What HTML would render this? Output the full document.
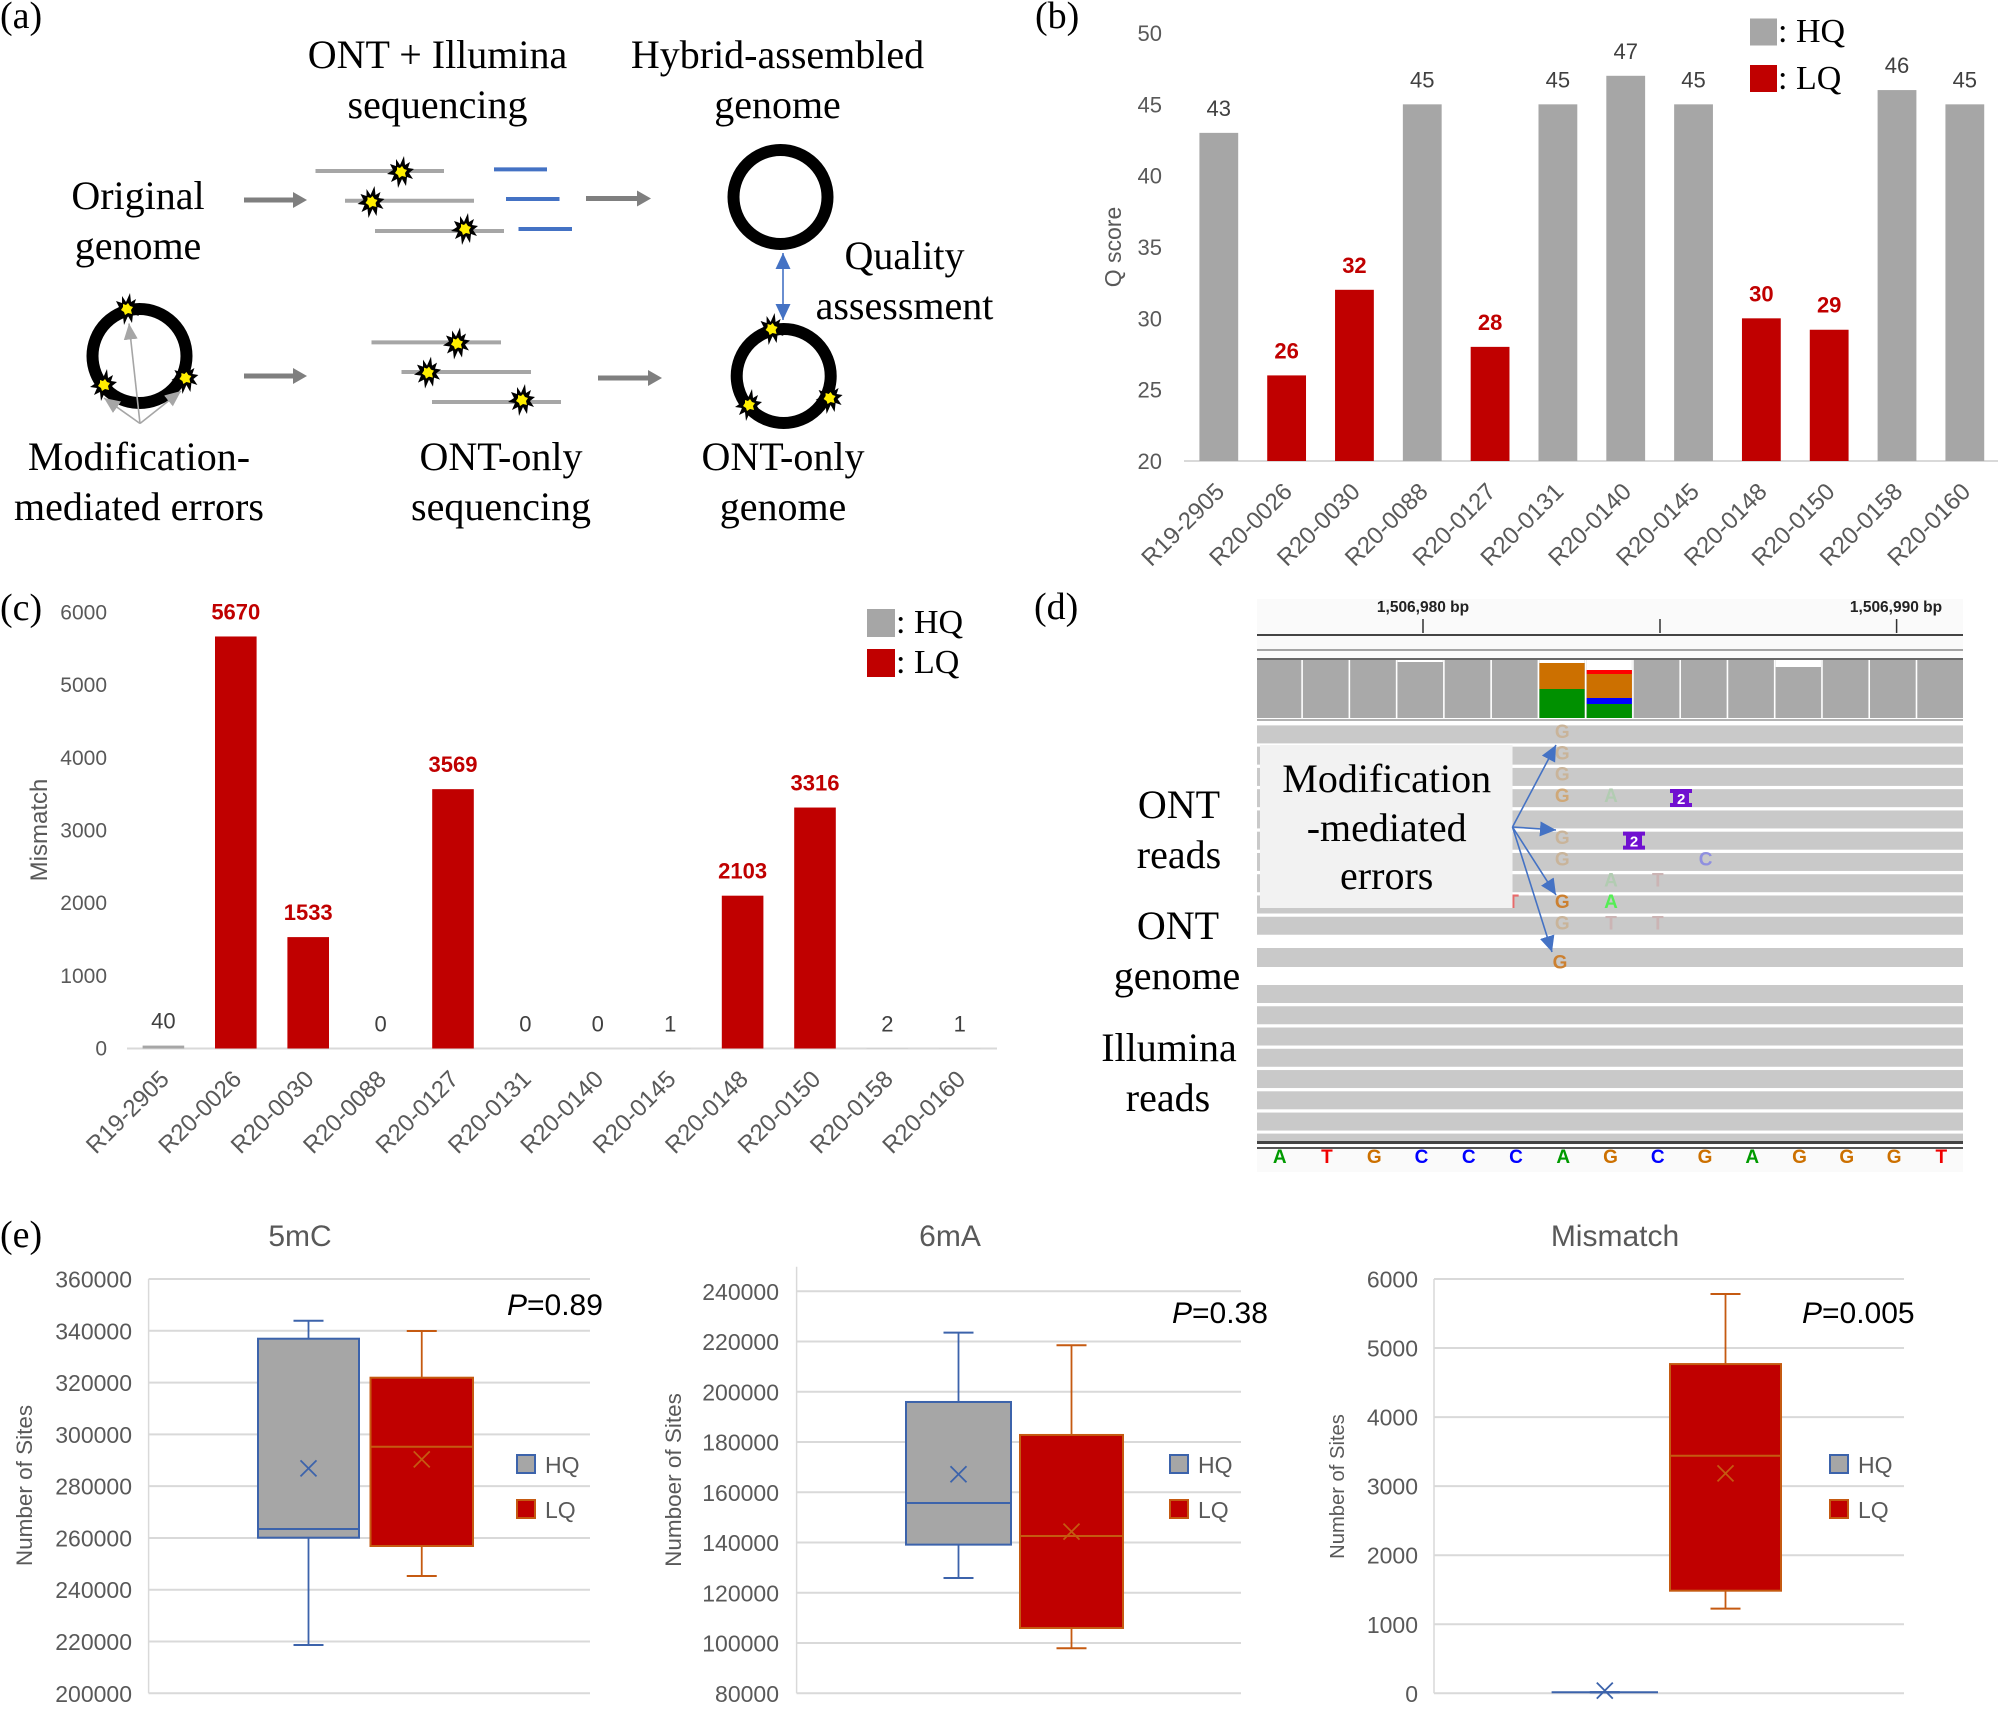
<!DOCTYPE html>
<html lang="en">
<head>
<meta charset="utf-8">
<title>Modification-mediated errors figure</title>
<style>
html,body{margin:0;padding:0;background:#fff;width:2000px;height:1709px;overflow:hidden}
svg{display:block}
.serif{font-family:"Liberation Serif",serif;fill:#000}
.sans{font-family:"Liberation Sans",sans-serif}
.s40{font-size:40px;text-anchor:middle}
.tick{font-size:22px;fill:#595959}
.igv{font-family:"Liberation Sans",sans-serif;font-size:19px;text-anchor:middle}
</style>
</head>
<body>
<svg id="fig" xmlns="http://www.w3.org/2000/svg" width="2000" height="1709" viewBox="0 0 2000 1709">
<defs>
<marker id="mGray" markerUnits="userSpaceOnUse" markerWidth="16" markerHeight="18" refX="1" refY="8" orient="auto"><polygon points="0,0 14,8 0,16" fill="#7f7f7f"/></marker>
<marker id="mThin" markerUnits="userSpaceOnUse" markerWidth="18" markerHeight="16" refX="16" refY="7" orient="auto"><polygon points="0,0 16,7 0,14" fill="#a6a6a6"/></marker>
<marker id="mBlue" markerUnits="userSpaceOnUse" markerWidth="18" markerHeight="18" refX="16" refY="7.5" orient="auto-start-reverse"><polygon points="0,0 16,7.5 0,15" fill="#4472c4"/></marker>
<g id="star">
<polygon fill="#000" points="3,-16 4,-7 9,-10 7,-4 13,-3 8,1 12,7 6,5 5,14 1,7 -3,16 -4,7 -10,10 -7,3 -14,2 -8,-2 -11,-8 -5,-6 -5,-13 -1,-7"/>
<polygon fill="#ffee00" points="1,-6 3,-3 6,-2 4,1 5,5 1,4 -2,6 -3,3 -6,1 -4,-2 -4,-5 -1,-4"/>
</g>
</defs>

<!-- Panel letters -->
<text class="serif" x="0" y="28" font-size="38">(a)</text>
<text class="serif" x="1035" y="28" font-size="38">(b)</text>
<text class="serif" x="0" y="620" font-size="38">(c)</text>
<text class="serif" x="1034" y="619" font-size="38">(d)</text>
<text class="serif" x="0" y="1247" font-size="38">(e)</text>

<!-- Panel a -->
<g id="panelA">
<text class="serif s40" x="437.5" y="68">ONT + Illumina</text>
<text class="serif s40" x="437.5" y="118">sequencing</text>
<text class="serif s40" x="777.5" y="68">Hybrid-assembled</text>
<text class="serif s40" x="777.5" y="118">genome</text>
<text class="serif s40" x="138" y="209">Original</text>
<text class="serif s40" x="138" y="259">genome</text>
<text class="serif s40" x="904.5" y="269">Quality</text>
<text class="serif s40" x="904.5" y="319">assessment</text>
<text class="serif s40" x="139" y="470">Modification-</text>
<text class="serif s40" x="139" y="520">mediated errors</text>
<text class="serif s40" x="501" y="470">ONT-only</text>
<text class="serif s40" x="501" y="520">sequencing</text>
<text class="serif s40" x="783" y="470">ONT-only</text>
<text class="serif s40" x="783" y="520">genome</text>

<g stroke="#7f7f7f" stroke-width="5" fill="none">
<line x1="244" y1="200" x2="294" y2="200" marker-end="url(#mGray)"/>
<line x1="586" y1="198.5" x2="638" y2="198.5" marker-end="url(#mGray)"/>
<line x1="244" y1="376" x2="294" y2="376" marker-end="url(#mGray)"/>
<line x1="598" y1="378" x2="649" y2="378" marker-end="url(#mGray)"/>
</g>
<g stroke="#a6a6a6" stroke-width="4">
<line x1="315.5" y1="171" x2="444" y2="171"/>
<line x1="345" y1="200.7" x2="474" y2="200.7"/>
<line x1="375" y1="231" x2="504" y2="231"/>
<line x1="371.5" y1="342.4" x2="501" y2="342.4"/>
<line x1="401.5" y1="372" x2="531" y2="372"/>
<line x1="432" y1="402" x2="561" y2="402"/>
</g>
<g stroke="#4472c4" stroke-width="4">
<line x1="494" y1="169.4" x2="547" y2="169.4"/>
<line x1="506" y1="199" x2="559.5" y2="199"/>
<line x1="518.5" y1="229" x2="572" y2="229"/>
</g>
<g fill="none" stroke="#000" stroke-width="12">
<circle cx="780.5" cy="197" r="47"/>
<circle cx="139.5" cy="356" r="47"/>
<circle cx="783.7" cy="376" r="47"/>
</g>
<g stroke="#a6a6a6" stroke-width="1.6" fill="none">
<line x1="140" y1="423.5" x2="129" y2="323.5" marker-end="url(#mThin)"/>
<line x1="140" y1="423.5" x2="104" y2="398" marker-end="url(#mThin)"/>
<line x1="140" y1="423.5" x2="181" y2="391" marker-end="url(#mThin)"/>
</g>
<line x1="783" y1="253" x2="783" y2="320" stroke="#4472c4" stroke-width="1.6" marker-start="url(#mBlue)" marker-end="url(#mBlue)"/>
<use href="#star" x="401" y="172"/>
<use href="#star" x="371.5" y="202"/>
<use href="#star" x="465" y="229"/>
<use href="#star" x="457" y="343.5"/>
<use href="#star" x="428" y="372.6"/>
<use href="#star" x="522" y="400"/>
<use href="#star" x="127" y="309"/>
<use href="#star" x="104" y="385"/>
<use href="#star" x="185.4" y="378"/>
<use href="#star" x="771.6" y="329"/>
<use href="#star" x="749" y="405"/>
<use href="#star" x="829.6" y="398"/>
</g>

<!-- Legends b, c -->
<rect x="1750" y="18.5" width="27" height="27" fill="#a6a6a6"/>
<rect x="1750" y="65" width="27" height="27" fill="#c00000"/>
<text class="serif" x="1778" y="42" font-size="34">: HQ</text>
<text class="serif" x="1778" y="89" font-size="34">: LQ</text>
<rect x="867" y="609" width="28" height="28" fill="#a6a6a6"/>
<rect x="867" y="649" width="28" height="28" fill="#c00000"/>
<text class="serif" x="896" y="633" font-size="34">: HQ</text>
<text class="serif" x="896" y="673" font-size="34">: LQ</text>

<g id="chartB"></g>
<g id="chartC"></g>

<!-- Panel d -->
<g id="panelD">
<rect x="1257" y="599" width="706" height="60" fill="#fafafa"/>
<line x1="1257" x2="1963" y1="635" y2="635" stroke="#444" stroke-width="2"/>
<line x1="1257" x2="1963" y1="650" y2="650" stroke="#888" stroke-width="1.5"/>
<line x1="1423" x2="1423" y1="619" y2="633" stroke="#333" stroke-width="1.5"/>
<line x1="1660" x2="1660" y1="619" y2="633" stroke="#333" stroke-width="1.5"/>
<line x1="1896.6" x2="1896.6" y1="619" y2="633" stroke="#333" stroke-width="1.5"/>
<text class="sans" x="1423" y="612" font-size="15.5" font-weight="700" fill="#222" text-anchor="middle">1,506,980 bp</text>
<text class="sans" x="1896" y="612" font-size="15.5" font-weight="700" fill="#222" text-anchor="middle">1,506,990 bp</text>
<line x1="1257" x2="1963" y1="659" y2="659" stroke="#666" stroke-width="2"/>
<line x1="1257" x2="1963" y1="720" y2="720" stroke="#999" stroke-width="1.5"/>
<g id="igvCoverage"></g>
<g id="igvReads"></g>

<g class="igv" font-weight="700">
<text x="1562.3" y="738" fill="#c9b49a">G</text>
<text x="1562.3" y="759.5" fill="#c9b49a">G</text>
<text x="1562.3" y="780.6" fill="#c9b49a">G</text>
<text x="1562.3" y="802" fill="#cfa878">G</text>
<text x="1562.3" y="844.2" fill="#c9b49a">G</text>
<text x="1562.3" y="865.6" fill="#c9b49a">G</text>
<text x="1562.3" y="908.1" fill="#cc8030">G</text>
<text x="1562.3" y="929.6" fill="#c9b49a">G</text>
<text x="1560" y="968.7" fill="#cc8030">G</text>
<text x="1611" y="802" fill="#b2ccb2">A</text>
<text x="1611" y="886.7" fill="#b2ccb2">A</text>
<text x="1611" y="908.1" fill="#55ee55">A</text>
<text x="1657.8" y="886.7" fill="#cbb4b4">T</text>
<text x="1657.8" y="929.6" fill="#cbb4b4">T</text>
<text x="1611" y="929.6" fill="#cbb4b4">T</text>
<text x="1705.6" y="865.6" fill="#8f8fdf">C</text>
<text x="1513" y="908.1" fill="#e86a6a">T</text>
</g>
<g>
<polygon points="1670,789 1692,789 1692,793 1689,793 1689,803 1692,803 1692,807 1670,807 1670,803 1673,803 1673,793 1670,793" fill="#7010d0"/>
<text class="sans" x="1681.2" y="804" font-size="15" font-weight="700" fill="#fff" text-anchor="middle">2</text>
<polygon points="1623,831.6 1645,831.6 1645,835.6 1642,835.6 1642,845.6 1645,845.6 1645,849.6 1623,849.6 1623,845.6 1626,845.6 1626,835.6 1623,835.6" fill="#7010d0"/>
<text class="sans" x="1634" y="846.6" font-size="15" font-weight="700" fill="#fff" text-anchor="middle">2</text>
</g>
<rect x="1260" y="745" width="252.5" height="163" fill="#f2f2f2"/>
<text class="serif s40" x="1386.7" y="792">Modification</text>
<text class="serif s40" x="1386.7" y="841">-mediated</text>
<text class="serif s40" x="1386.7" y="889">errors</text>
<g stroke="#4472c4" stroke-width="1.6" fill="none">
<line x1="1512.5" y1="827" x2="1556" y2="745" marker-end="url(#mBlue)"/>
<line x1="1512.5" y1="827" x2="1556" y2="830" marker-end="url(#mBlue)"/>
<line x1="1512.5" y1="827" x2="1556" y2="895" marker-end="url(#mBlue)"/>
<line x1="1512.5" y1="827" x2="1552" y2="952" marker-end="url(#mBlue)"/>
</g>
<line x1="1257" x2="1963" y1="1142.5" y2="1142.5" stroke="#444" stroke-width="3"/>
<line x1="1257" x2="1963" y1="1148" y2="1148" stroke="#555" stroke-width="2"/>
<rect x="1257" y="1149" width="706" height="23" fill="#fafafa"/>
<g id="igvSeq"></g>
<text class="serif s40" x="1179" y="818">ONT</text>
<text class="serif s40" x="1179" y="868">reads</text>
<text class="serif s40" x="1178" y="939">ONT</text>
<text class="serif s40" x="1177" y="989">genome</text>
<text class="serif s40" x="1169" y="1061">Illumina</text>
<text class="serif s40" x="1168" y="1111">reads</text>
</g>

<g id="chartE1"></g>
<g id="chartE2"></g>
<g id="chartE3"></g>
</svg>

<script>
// ---- chart data ----
const isolates = ['R19-2905','R20-0026','R20-0030','R20-0088','R20-0127','R20-0131','R20-0140','R20-0145','R20-0148','R20-0150','R20-0158','R20-0160'];
const qualityClass = ['HQ','LQ','LQ','HQ','LQ','HQ','HQ','HQ','LQ','LQ','HQ','HQ'];
const qScores = [43,26,32,45,28,45,47,45,30,29.2,46,45];
const qTicks = [20,25,30,35,40,45,50];
const mismatches = [40,5670,1533,0,3569,0,0,1,2103,3316,2,1];
const mismatchTicks = [0,1000,2000,3000,4000,5000,6000];

// box statistics order: low whisker, Q1, median, Q3, high whisker, mean
const mc5Hq = [218660,260100,263450,336940,343900,286880];
const mc5Lq = [245300,256890,295240,321880,339900,290350];
const mc5Ticks = [200000,220000,240000,260000,280000,300000,320000,340000,360000];
const ma6Hq = [125900,139170,155750,195950,223550,167170];
const ma6Lq = [97910,106000,142620,182820,218510,144340];
const ma6Ticks = [80000,100000,120000,140000,160000,180000,200000,220000,240000];
const misHq = [15,15,15,15,15,39];
const misLq = [1226,1486,3441,4768,5782,3185];
const misTicks = [0,1000,2000,3000,4000,5000,6000];
const igvBases = 'ATGCCCAGCGAGGGT';

// ---- helpers ----
const NS = 'http://www.w3.org/2000/svg';
function mk(parent, tag, attrs, txt){
  const el = document.createElementNS(NS, tag);
  for (const k in attrs) el.setAttribute(k, attrs[k]);
  if (txt !== undefined) el.textContent = txt;
  parent.appendChild(el);
  return el;
}
const SANS = '"Liberation Sans",sans-serif';
function linear(d0, d1, r0, r1){ return v => r0 + (v - d0) * (r1 - r0) / (d1 - d0); }

// ---- bar charts ----
function barChart(g, o){
  const y = linear(o.ticks[0], o.ticks[o.ticks.length-1], o.y0, o.y1);
  const x = i => o.x0 + i * o.step;
  const ax = mk(g, 'line', {x1:o.axisL, x2:o.axisR, y1:o.y0, y2:o.y0, stroke:'#d9d9d9', 'stroke-width':2});
  
  
  o.ticks.forEach(t => {
    const l = mk(g, 'text', {x:o.tickX, y:y(t)+o.tickDy, 'text-anchor':'end', 'font-family':SANS, 'font-size':o.tickSize, fill:'#595959'}, t);
    
    
  });
  const ttl = mk(g, 'text', {transform:'translate('+o.titleX+','+o.titleY+') rotate(-90)', 'text-anchor':'middle', 'font-family':SANS, 'font-size':o.titleSize, fill:'#595959'}, o.title);
  
  
  isolates.forEach((name, i) => {
    const v = o.values[i], cx = x(i), lq = qualityClass[i] === 'LQ';
    const top = y(v);
    const bar = mk(g, 'rect', {x:cx - o.width/2, y:top, width:o.width, height:Math.max(0, o.y0 - top), fill: lq ? '#c00000' : '#a6a6a6'});
    
    
    const val = mk(g, 'text', {x:cx, y:top - o.labelGap, 'text-anchor':'middle', 'font-family':SANS, 'font-size':22, 'font-weight': lq ? 700 : 400, fill: lq ? '#c00000' : '#404040'}, Math.round(v));
    
    
    const cat = mk(g, 'text', {transform:'translate('+(cx+7)+','+(o.y0+32)+') rotate(-45)', 'text-anchor':'end', 'font-family':SANS, 'font-size':24, fill:'#595959'}, name);
    
    
  });
}
barChart(document.getElementById('chartB'), {
  values:qScores, ticks:qTicks, y0:461, y1:33, x0:1218.8, step:67.82, width:38.8,
  axisL:1184, axisR:1998, tickX:1162, tickSize:22, tickDy:8, title:'Q score', titleX:1121, titleY:247, titleSize:23, labelGap:17
});
barChart(document.getElementById('chartC'), {
  values:mismatches, ticks:mismatchTicks, y0:1048.5, y1:612.5, x0:163.4, step:72.4, width:41.6,
  axisL:127, axisR:997, tickX:107, tickSize:21, tickDy:7, title:'Mismatch', titleX:47, titleY:830, titleSize:24, labelGap:17
});

// ---- box plots ----
function boxPlot(g, o){
  const y = linear(o.ticks[0], o.ticks[o.ticks.length-1], o.y0, o.y1);
  const ax = mk(g, 'line', {x1:o.axisX, x2:o.axisX, y1:o.axisTop, y2:o.y0, stroke:'#d9d9d9', 'stroke-width':1.5});
  
  
  o.ticks.forEach(t => {
    const gl = mk(g, 'line', {x1:o.axisX, x2:o.gridR, y1:y(t), y2:y(t), stroke:'#d9d9d9', 'stroke-width':2});
    
    
    const l = mk(g, 'text', {x:o.tickX, y:y(t)+8.5, 'text-anchor':'end', 'font-family':SANS, 'font-size':23, fill:'#595959'}, t);
    
    
  });
  const ti = mk(g, 'text', {x:o.titleX, y:1246, 'text-anchor':'middle', 'font-family':SANS, 'font-size':30, fill:'#595959'}, o.title);
  
  
  const yt = mk(g, 'text', {transform:'translate('+o.yTitleX+','+o.yTitleY+') rotate(-90)', 'text-anchor':'middle', 'font-family':SANS, 'font-size':o.yTitleSize, fill:'#595959'}, o.yTitle);
  
  
  const p = mk(g, 'text', {x:o.pX, y:o.pY, 'font-family':SANS, 'font-size':30, fill:'#000'});
  
  
  mk(p, 'tspan', {'font-style':'italic'}, 'P');
  mk(p, 'tspan', {}, '=' + o.p);
  [[o.hq, o.hqL, o.hqR, '#a6a6a6', '#3c63ab', 'hq'], [o.lq, o.lqL, o.lqR, '#c00000', '#c55a11', 'lq']].forEach(s => {
    const st = s[0], L = s[1], R = s[2], fill = s[3], col = s[4], c = (L + R) / 2;
    const wh = mk(g, 'line', {x1:c, x2:c, y1:y(st[4]), y2:y(st[0]), stroke:col, 'stroke-width':1.8});
    
    
    const capH = mk(g, 'line', {x1:c-15, x2:c+15, y1:y(st[4]), y2:y(st[4]), stroke:col, 'stroke-width':2});
    
    
    const capL = mk(g, 'line', {x1:c-15, x2:c+15, y1:y(st[0]), y2:y(st[0]), stroke:col, 'stroke-width':2});
    
    
    const box = mk(g, 'rect', {x:L, y:y(st[3]), width:R-L, height:y(st[1])-y(st[3]), fill:fill, stroke:col, 'stroke-width':2});
    
    
    const med = mk(g, 'line', {x1:L, x2:R, y1:y(st[2]), y2:y(st[2]), stroke:col, 'stroke-width':2});
    
    
    const my = y(st[5]);
    const m1 = mk(g, 'line', {x1:c-8, x2:c+8, y1:my-8, y2:my+8, stroke:col, 'stroke-width':1.8});
    
    
    const m2 = mk(g, 'line', {x1:c-8, x2:c+8, y1:my+8, y2:my-8, stroke:col, 'stroke-width':1.8});
    
    
  });
  [['HQ', 1455, '#a6a6a6', '#3c63ab'], ['LQ', 1500, '#c00000', '#c55a11']].forEach(e => {
    const sw = mk(g, 'rect', {x:o.legX, y:e[1], width:18, height:18, fill:e[2], stroke:e[3], 'stroke-width':2});
    
    
    const lb = mk(g, 'text', {x:o.legX+28, y:e[1]+18, 'font-family':SANS, 'font-size':23, fill:'#595959'}, e[0]);
    
    
  });
}
boxPlot(document.getElementById('chartE1'), {
  title:'5mC', titleX:300, yTitle:'Number of Sites', yTitleX:32, yTitleY:1485.5, yTitleSize:22.5,
  ticks:mc5Ticks, y0:1693.3, y1:1279, axisX:148.6, axisTop:1279, gridR:590, tickX:132,
  hq:mc5Hq, hqL:258, hqR:359, lq:mc5Lq, lqL:370.5, lqR:473, p:'0.89', pX:507, pY:1315, legX:517
});
boxPlot(document.getElementById('chartE2'), {
  title:'6mA', titleX:950, yTitle:'Numboer of Sites', yTitleX:681, yTitleY:1480, yTitleSize:22.5,
  ticks:ma6Ticks, y0:1693.3, y1:1291.3, axisX:796.6, axisTop:1266.7, gridR:1241, tickX:779,
  hq:ma6Hq, hqL:906, hqR:1011, lq:ma6Lq, lqL:1020, lqR:1123, p:'0.38', pX:1172, pY:1323, legX:1170
});
boxPlot(document.getElementById('chartE3'), {
  title:'Mismatch', titleX:1615, yTitle:'Number of Sites', yTitleX:1344, yTitleY:1486.5, yTitleSize:20.2,
  ticks:misTicks, y0:1693.3, y1:1279, axisX:1434, axisTop:1279, gridR:1904, tickX:1418,
  hq:misHq, hqL:1551.6, hqR:1658, lq:misLq, lqL:1670, lqR:1781, p:'0.005', pX:1802, pY:1323, legX:1830
});

// ---- IGV tracks ----
(function(){
  const cov = document.getElementById('igvCoverage');
  const covLeft = 1257, colW = 47.26, covTop = 660, covBottom = 718;
  const bg = mk(cov, 'rect', {x:covLeft, y:covTop, width:706, height:covBottom-covTop, fill:'#a9a9a9'});
  
  
  const first = 1302.1;
  const col = i => first + (i - 1) * colW;
  const seg = (x, w, y0, y1, c, name) => {
    const r = mk(cov, 'rect', {x:x, y:y0, width:w, height:y1-y0, fill:c});
    
    
  };
  seg(col(6)+1, colW-2, covTop, 663, '#fff', 'coverage-gap');
  seg(col(6)+1, colW-2, 663, 689, '#cc7000', 'coverage-g-segment');
  seg(col(6)+1, colW-2, 689, covBottom, '#009000', 'coverage-a-segment');
  seg(col(7)+1, colW-2, covTop, 670, '#fff', 'coverage-gap');
  seg(col(7)+1, colW-2, 670, 674, '#ff0000', 'coverage-t-segment');
  seg(col(7)+1, colW-2, 674, 698, '#cc7000', 'coverage-g-segment');
  seg(col(7)+1, colW-2, 698, 704, '#0000ff', 'coverage-c-segment');
  seg(col(7)+1, colW-2, 704, covBottom, '#009000', 'coverage-a-segment');
  seg(col(11)+1, colW-2, covTop, 667, '#fff', 'coverage-gap');
  seg(col(3)+1, colW-2, covTop, 662, '#fff', 'coverage-gap');
  for (let i = 1; i <= 14; i++){
    const s = mk(cov, 'line', {x1:col(i), x2:col(i), y1:covTop, y2:covBottom, stroke:'#fff', 'stroke-width':1.6});
    
    
  }
  const reads = document.getElementById('igvReads');
  const rowH = 18, rowStep = 21.26;
  for (let i = 0; i < 10; i++){
    const r = mk(reads, 'rect', {x:1257, y:725.4 + i*rowStep, width:706, height:rowH, fill:'#c9c9c9'});
    
    
  }
  const gen = mk(reads, 'rect', {x:1257, y:948, width:706, height:19, fill:'#c9c9c9'});
  
  
  for (let i = 0; i < 7; i++){
    const r = mk(reads, 'rect', {x:1257, y:985 + i*rowStep, width:706, height:rowH, fill:'#c9c9c9'});
    
    
  }
  const tail = mk(reads, 'rect', {x:1257, y:1133.6, width:706, height:8, fill:'#c9c9c9'});
  
  
  const seq = document.getElementById('igvSeq');
  const baseCol = {A:'#009a00', T:'#f00000', G:'#cc7000', C:'#0000ff'};
  igvBases.split('').forEach((b, i) => {
    const t = mk(seq, 'text', {x:1279.7 + i*47.26, y:1163, 'text-anchor':'middle', 'font-family':SANS, 'font-size':19, 'font-weight':700, fill:baseCol[b]}, b);
    
    
  });
})();
</script>
</body>
</html>
